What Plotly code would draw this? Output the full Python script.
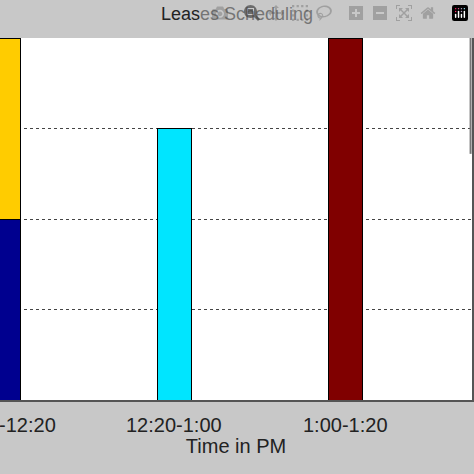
import plotly.graph_objects as go

slots = ["12:00-12:20", "12:20-1:00", "1:00-1:20", "1:20-1:40"]
slot_pos = [0, 1, 2, 3]
lease_a = [2, 0, 0]   # navy
lease_b = [2, 0, 0]   # yellow
lease_c = [0, 3, 0]   # cyan
lease_d = [0, 0, 4]   # maroon

colors = ["#00008F", "#FFCC00", "#00E5FF", "#800000"]
font = "Liberation Sans, Arial, sans-serif"

fig = go.Figure()
for vals, col in zip([lease_a, lease_b, lease_c, lease_d], colors):
    fig.add_trace(go.Bar(x=slot_pos[:3], y=vals, width=0.2,
                         marker=dict(color=col, line=dict(color="black", width=1)),
                         showlegend=False))

# category labels as annotations so the partly-visible ones still show
for pos, lab in zip(slot_pos, slots):
    fig.add_annotation(x=pos, y=0, yshift=-25, text=lab, showarrow=False,
                       xref="x", yref="y", font=dict(family=font, size=20, color="#222"))

# edge of legend box peeking in at right
fig.add_shape(type="line", xref="paper", yref="paper", x0=0.997, x1=0.997, y0=0.68, y1=1,
              line=dict(color="#777", width=2))

fig.update_layout(
    width=474, height=474, barmode="stack",
    margin=dict(l=0, r=0, t=38, b=74),
    paper_bgcolor="#c8c8c8", plot_bgcolor="white",
    font=dict(family=font, size=19, color="#222"),
    title=dict(text="Leases Scheduling", x=0.5, xanchor="center", y=0.985, yanchor="top",
               font=dict(size=18)),
)
fig.update_xaxes(range=[-0.017, 2.738], tickvals=slot_pos[:3], showticklabels=False,
                 showgrid=False, showline=True, linecolor="#555", linewidth=2,
                 ticks="", title=dict(text="Time in PM", standoff=38, font=dict(size=20)))
fig.update_yaxes(range=[0, 4], dtick=1, showticklabels=False, showgrid=True,
                 gridcolor="#444", griddash="dot", gridwidth=1, zeroline=False,
                 showline=True, linecolor="#555", linewidth=2, mirror=True)

fig.write_html("out.html", post_script="document.body.style.margin='0';")
